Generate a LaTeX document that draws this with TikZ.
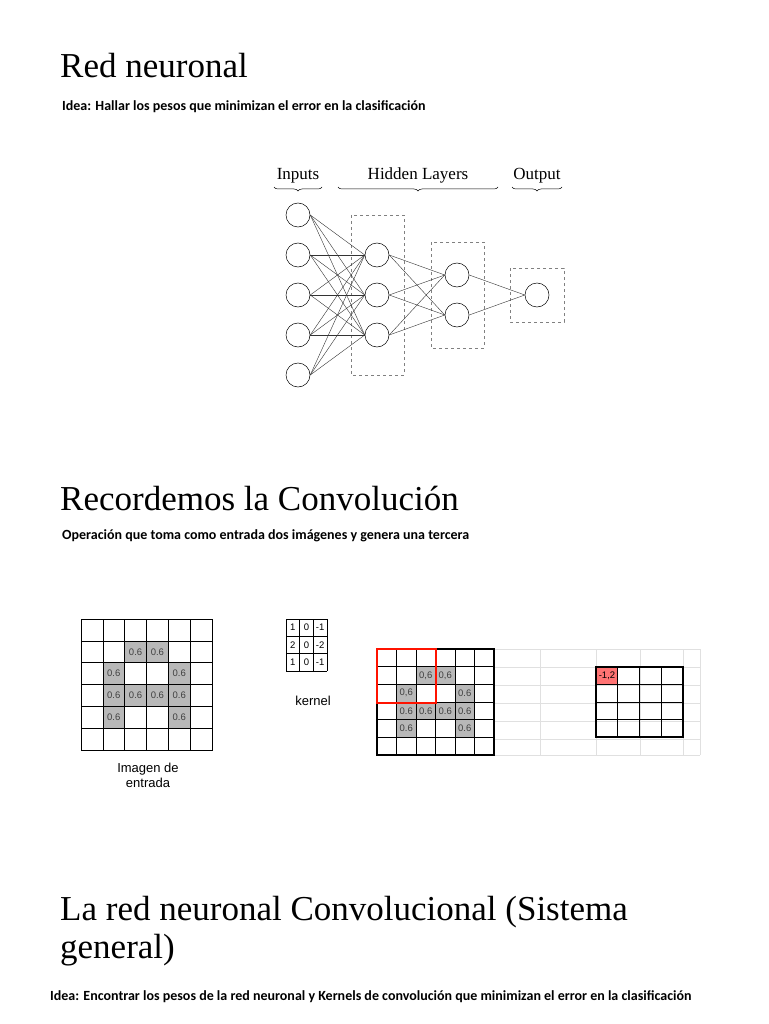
\documentclass[tikz,border=0pt]{standalone}
\usepackage{fontspec}
\setmainfont{Liberation Serif}
\newfontfamily\calfnt{Carlito}
\newfontfamily\arifnt{Liberation Sans}
\usetikzlibrary{decorations.pathreplacing}
\begin{document}
\begin{tikzpicture}[x=1pt,y=-1pt,
 neuron/.style={circle,draw,line width=0.5pt,minimum size=24pt,inner sep=0pt},
 lyr/.style={draw,dashed,gray,line width=0.6pt},
 conn/.style={line width=0.4pt,black!80},
 ttl/.style={anchor=west,font=\fontsize{35}{38}\selectfont,inner sep=0pt},
 sub/.style={anchor=west,font=\calfnt\bfseries\fontsize{14}{16}\selectfont,inner sep=0pt},
 lbl/.style={anchor=base,font=\fontsize{17}{19}\selectfont,inner sep=0pt},
 cellv/.style={font=\arifnt\fontsize{9.5}{10}\selectfont,inner sep=0pt,text=black!75},
 captxt/.style={font=\arifnt\fontsize{13}{15}\selectfont,align=center,inner sep=0pt}]
\useasboundingbox (0,0) rectangle (768,1024);
\fill[white] (0,0) rectangle (768,1024);
% titles
\node[ttl] (t1) at (60,66) {Red neuronal};
\node[sub] (s1) at (62,107) {Idea: Hallar los pesos que minimizan el error en la clasificación};
\node[ttl] (t2) at (60,498) {Recordemos la Convolución};
\node[sub] (s2) at (62,536) {Operación que toma como entrada dos imágenes y genera una tercera};
\node[ttl,align=left] (t3) at (60,931) {La red neuronal Convolucional (Sistema\\general)};
\node[sub] (s3) at (50,997) {Idea: Encontrar los pesos de la red neuronal y Kernels de convolución que minimizan el error en la clasificación};
% network
\draw[lyr] (351,215) rectangle (404,375);
\draw[lyr] (431,242) rectangle (484,348);
\draw[lyr] (510,268) rectangle (564,322);
\foreach \i/\y in {1/215,2/255,3/295,4/335,5/375} \node[neuron] (i\i) at (298,\y) {};
\foreach \i/\y in {1/255,2/295,3/335} \node[neuron] (h\i) at (377,\y) {};
\foreach \i/\y in {1/275,2/315} \node[neuron] (g\i) at (457,\y) {};
\node[neuron] (o) at (537,295) {};
\foreach \a in {1,...,5}\foreach \b in {1,2,3} \draw[conn] (i\a.east) -- (h\b.west);
\foreach \a in {1,2,3}\foreach \b in {1,2} \draw[conn] (h\a.east) -- (g\b.west);
\foreach \a in {1,2} \draw[conn] (g\a.east) -- (o.west);
\node[lbl] (li) at (298,180) {Inputs};
\node[lbl] (lh) at (418,180) {Hidden Layers};
\node[lbl] (lo) at (537,180) {Output};
\draw[decorate,decoration={brace,amplitude=4pt,mirror},line width=0.5pt] (274,187) -- (322,187);
\draw[decorate,decoration={brace,amplitude=4pt,mirror},line width=0.5pt] (338,187) -- (498,187);
\draw[decorate,decoration={brace,amplitude=4pt,mirror},line width=0.5pt] (512,187) -- (562,187);
% input image grid
\def\cw{21.83}
\foreach \r/\c in {1/2,1/3,2/1,2/4,3/1,3/2,3/3,3/4,4/1,4/4}{
 \fill[black!28] (81+\c*\cw,619+\r*\cw) rectangle ++(\cw,\cw);
 \node[cellv] at (81+\c*\cw+\cw/2,619+\r*\cw+\cw/2) {0.6};}
\foreach \k in {0,...,6}{\draw[line width=0.6pt] (81+\k*\cw,619) -- (81+\k*\cw,750);
 \draw[line width=0.6pt] (81,619+\k*\cw) -- (212,619+\k*\cw);}
\draw[line width=1pt] (81,619) rectangle (212,750);
\node[captxt] (cap1) at (148,775) {Imagen de\\entrada};
% kernel
\foreach \k in {0,...,3}{\draw[line width=0.5pt] (286+\k*13.67,619) -- (286+\k*13.67,671);
 \draw[line width=0.5pt] (286,619+\k*17.33) -- (327,619+\k*17.33);}
\foreach \r/\vals in {0/{1,0,-1},1/{2,0,-2},2/{1,0,-1}}{
 \foreach \v [count=\c from 0] in \vals
 \node[cellv,text=black] at (286+\c*13.67+6.8,619+\r*17.33+8.7) {\v};}
\node[captxt] (kl) at (313,701) {kernel};
% faint background grid
\foreach \y in {649,667,685,703,721,739,755} \draw[black!12,line width=0.6pt] (494,\y) -- (700,\y);
\foreach \x in {540,596,640,683,700} \draw[black!12,line width=0.6pt] (\x,649) -- (\x,755);
% second grid
\def\gw{19.5}\def\gh{17.67}
\foreach \r/\c/\t in {1/2/0{,}6,1/3/0{,}6,2/1/0{,}6,2/4/0.6,3/1/0.6,3/2/0.6,3/3/0.6,3/4/0.6,4/1/0.6,4/4/0.6}{
 \fill[black!28] (377+\c*\gw,649+\r*\gh) rectangle ++(\gw,\gh);
 \node[cellv] at (377+\c*\gw+\gw/2,649+\r*\gh+\gh/2) {\t};}
\foreach \k in {0,...,6}{\draw[line width=0.6pt] (377+\k*\gw,649) -- (377+\k*\gw,755);
 \draw[line width=0.6pt] (377,649+\k*\gh) -- (494,649+\k*\gh);}
\draw[line width=1.2pt] (377,649) rectangle (494,755);
\draw[red!85!orange,line width=2pt] (377,649) rectangle (436,703);
% output grid
\fill[red!55!white] (596,667) rectangle (618,685);
\node[cellv,text=black] at (607,676) {-1,2};
\foreach \k in {0,...,4}{\draw[line width=0.6pt] (596+\k*21.75,667) -- (596+\k*21.75,737);
 \draw[line width=0.6pt] (596,667+\k*17.5) -- (683,667+\k*17.5);}
\draw[line width=1.2pt] (596,667) rectangle (683,737);
\end{tikzpicture}
\end{document}
